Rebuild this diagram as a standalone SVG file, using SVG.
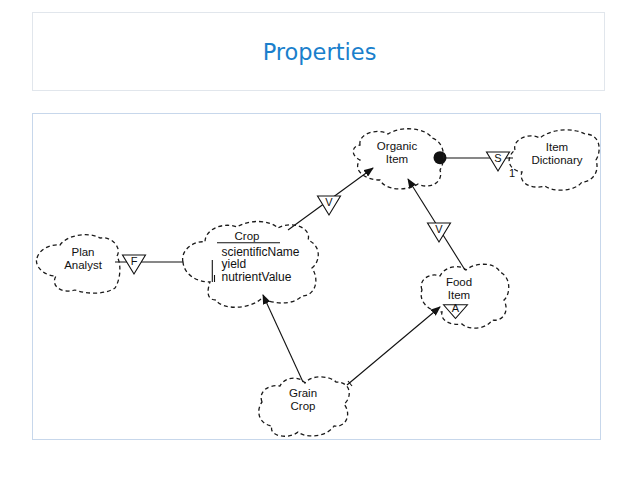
<svg xmlns="http://www.w3.org/2000/svg" width="638" height="478" viewBox="0 0 638 478">
<style>
.cloud{fill:none;stroke:#1a1a1a;stroke-width:1.3;stroke-dasharray:4 3}
.t{font-family:"Liberation Sans",Arial,sans-serif;font-size:11.5px;fill:#111;text-anchor:middle}
.ta{font-family:"Liberation Sans",Arial,sans-serif;font-size:12px;fill:#111}
.ln{fill:none;stroke:#111;stroke-width:1.1}
.tri{fill:#fff;stroke:#111;stroke-width:1.1}
.lt{font-family:"Liberation Sans",Arial,sans-serif;font-size:11px;fill:#111;text-anchor:middle}
</style>
<defs>
<marker id="arr" markerWidth="10" markerHeight="8" refX="9" refY="4" orient="auto" markerUnits="userSpaceOnUse">
<path d="M0,0 L10,4 L0,8 Z" fill="#111"/>
</marker>
<path id="tri" d="M -11.5,-8 L 11.5,-8 L 0,11 Z"/>
</defs>
<rect width="638" height="478" fill="#fff"/>
<rect x="32.5" y="12.5" width="572" height="78" fill="#fff" stroke="#e1e6ec" stroke-width="1"/>
<text x="319.5" y="60" font-family="DejaVu Sans, sans-serif" font-size="22.5" fill="#1a7fcc" text-anchor="middle">Properties</text>
<rect x="32.5" y="113.5" width="568" height="326" fill="none" stroke="#8eaed6" stroke-width="1" stroke-dasharray="1 1"/>

<g id="connectors">
<line class="ln" x1="288" y1="230" x2="373" y2="168" marker-end="url(#arr)"/>
<line class="ln" x1="465" y1="270" x2="408" y2="179" marker-end="url(#arr)"/>
<line class="ln" x1="303" y1="382" x2="263" y2="295" marker-end="url(#arr)"/>
<line class="ln" x1="347" y1="385" x2="440" y2="307" marker-end="url(#arr)"/>
<line class="ln" x1="348" y1="381" x2="352" y2="386"/>
<line class="ln" x1="115" y1="262" x2="183" y2="262"/>
<line class="ln" x1="440" y1="158" x2="513" y2="158"/>
<circle cx="440" cy="157.7" r="6.5" fill="#111"/>
<g transform="translate(329,204)"><use href="#tri" class="tri"/><text class="lt" x="0" y="2">V</text></g>
<g transform="translate(439,231)"><use href="#tri" class="tri"/><text class="lt" x="0" y="2">V</text></g>
<g transform="translate(134,263)"><use href="#tri" class="tri"/><text class="lt" x="0" y="2">F</text></g>
<g transform="translate(498,160)"><use href="#tri" class="tri"/><text class="lt" x="0" y="2">S</text></g>
<text class="lt" x="512" y="176.5">1</text>
</g>

<g id="organic-item">
<path class="cloud" d="M 360,145 C 358,133 378,128 388,134 C 400,126 425,127 432,138 C 445,142 446,160 440,170 C 444,182 430,190 418,184 C 405,192 385,190 380,180 C 365,180 352,170 360,160 C 350,155 352,146 360,145 Z"/>
<text class="t" x="397" y="149.5">Organic</text>
<text class="t" x="397" y="162.5">Item</text>
</g>

<g id="item-dictionary">
<path class="cloud" d="M 515,150 C 512,140 528,132 540,138 C 552,128 575,128 585,134 C 600,134 602,150 596,160 C 600,172 592,182 582,182 C 575,192 552,192 545,186 C 530,190 518,182 522,172 C 508,170 505,158 515,150 Z"/>
<text class="t" x="557" y="150.5">Item</text>
<text class="t" x="557" y="163.5">Dictionary</text>
</g>

<g id="plan-analyst">
<path class="cloud" d="M 37,258 C 40,248 52,244 60,245 C 68,234 90,232 100,238 C 112,236 122,248 117,256 C 122,266 120,280 115,288 C 105,295 85,294 75,290 C 62,294 50,286 56,276 C 44,276 34,266 37,258 Z"/>
<text class="t" x="83" y="255.5">Plan</text>
<text class="t" x="83" y="268.5">Analyst</text>
</g>

<g id="crop">
<path class="cloud" d="M 183,262 C 180,250 195,240 205,242 C 205,228 225,222 237,227 C 250,219 270,220 278,228 C 292,220 312,228 308,240 C 322,246 320,262 312,268 C 320,280 315,296 302,296 C 292,306 272,304 262,298 C 250,310 222,310 216,300 C 205,300 208,288 210,282 C 196,282 184,274 183,262 Z"/>
<text class="t" x="247" y="239.5" font-size="12.5">Crop</text>
<line class="ln" x1="217" y1="242.8" x2="280" y2="242.8"/>
<text class="ta" x="221.5" y="255.5">scientificName</text>
<text class="ta" x="221.5" y="268">yield</text>
<text class="ta" x="221.5" y="280.5">nutrientValue</text>
<line class="ln" x1="212.3" y1="260" x2="212.3" y2="282"/>
<line class="ln" x1="214.5" y1="275" x2="214.5" y2="282"/>
</g>

<g id="food-item">
<path class="cloud" d="M 422,290 C 418,280 430,272 440,276 C 445,266 460,264 466,270 C 475,262 495,262 500,272 C 512,278 510,295 504,300 C 510,312 502,322 492,320 C 486,330 468,330 462,324 C 450,326 440,320 442,312 C 428,312 418,300 422,290 Z"/>
<text class="t" x="459" y="285.5">Food</text>
<text class="t" x="459" y="298.5">Item</text>
<g transform="translate(455.5,310.5) scale(1.05,0.72)"><use href="#tri" class="tri"/></g>
<text class="lt" x="455.5" y="311.5">A</text>
</g>

<g id="grain-crop">
<path class="cloud" d="M 262,402 C 258,392 268,384 280,386 C 285,376 300,376 305,383 C 312,374 330,376 336,382 C 352,382 352,398 344,404 C 352,414 346,428 334,426 C 326,438 305,438 298,432 C 288,440 268,436 272,426 C 258,424 256,410 262,402 Z"/>
<text class="t" x="303" y="397">Grain</text>
<text class="t" x="303" y="410">Crop</text>
</g>
</svg>
